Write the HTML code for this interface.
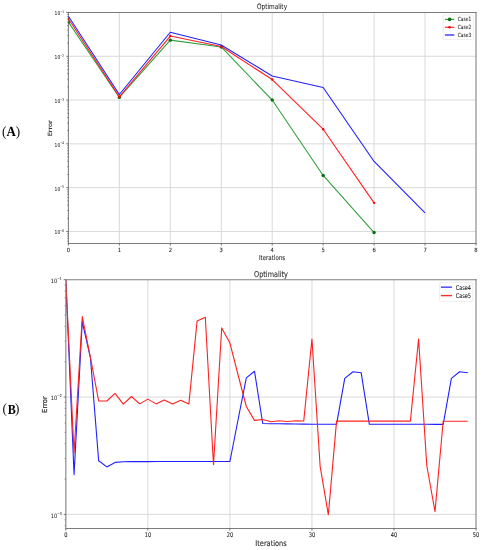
<!DOCTYPE html><html><head><meta charset="utf-8"><title>Optimality</title><style>html,body{margin:0;padding:0;background:#fff;width:483px;height:550px;overflow:hidden}svg{display:block;text-rendering:geometricPrecision}</style></head><body>
<svg width="483" height="550" viewBox="0 0 483 550">
<rect width="483" height="550" fill="#fff"/>
<defs><clipPath id="ca"><rect x="68.4" y="12.45" width="407.60" height="231.00"/></clipPath><clipPath id="cb"><rect x="65.85" y="279.7" width="410.15" height="248.70"/></clipPath></defs>
<g stroke="#d9d9d9" stroke-width="1"><line x1="119.35" y1="12.45" x2="119.35" y2="243.45"/><line x1="170.30" y1="12.45" x2="170.30" y2="243.45"/><line x1="221.25" y1="12.45" x2="221.25" y2="243.45"/><line x1="272.20" y1="12.45" x2="272.20" y2="243.45"/><line x1="323.15" y1="12.45" x2="323.15" y2="243.45"/><line x1="374.10" y1="12.45" x2="374.10" y2="243.45"/><line x1="425.05" y1="12.45" x2="425.05" y2="243.45"/><line x1="68.4" y1="56.25" x2="476.0" y2="56.25"/><line x1="68.4" y1="100.05" x2="476.0" y2="100.05"/><line x1="68.4" y1="143.85" x2="476.0" y2="143.85"/><line x1="68.4" y1="187.65" x2="476.0" y2="187.65"/><line x1="68.4" y1="231.45" x2="476.0" y2="231.45"/></g>
<g stroke="#7c7c7c" stroke-width="1.05" stroke-linecap="square"><line x1="68.4" y1="12.45" x2="476.0" y2="12.45"/><line x1="68.4" y1="243.45" x2="476.0" y2="243.45"/><line x1="68.4" y1="12.45" x2="68.4" y2="243.45"/><line x1="476.0" y1="12.45" x2="476.0" y2="243.45"/></g>
<g clip-path="url(#ca)">
<polyline fill="none" stroke="#34a040" stroke-width="1.1" stroke-linejoin="round" points="68.40,22.17 119.35,97.39 170.30,40.16 221.25,46.96 272.20,100.05 323.15,175.44 374.10,232.53"/>
<circle cx="68.40" cy="22.17" r="1.7" fill="#0a6e14"/>
<circle cx="119.35" cy="97.39" r="1.7" fill="#0a6e14"/>
<circle cx="170.30" cy="40.16" r="1.7" fill="#0a6e14"/>
<circle cx="221.25" cy="46.96" r="1.7" fill="#0a6e14"/>
<circle cx="272.20" cy="100.05" r="1.7" fill="#0a6e14"/>
<circle cx="323.15" cy="175.44" r="1.7" fill="#0a6e14"/>
<circle cx="374.10" cy="232.53" r="1.7" fill="#0a6e14"/>
<polyline fill="none" stroke="#ff2020" stroke-width="1.1" stroke-linejoin="round" points="68.40,18.70 119.35,96.90 170.30,36.06 221.25,46.50 272.20,79.54 323.15,129.20 374.10,202.84"/>
<circle cx="68.40" cy="18.70" r="1.2" fill="#ff0000"/>
<circle cx="119.35" cy="96.90" r="1.2" fill="#ff0000"/>
<circle cx="170.30" cy="36.06" r="1.2" fill="#ff0000"/>
<circle cx="221.25" cy="46.50" r="1.2" fill="#ff0000"/>
<circle cx="272.20" cy="79.54" r="1.2" fill="#ff0000"/>
<circle cx="323.15" cy="129.20" r="1.2" fill="#ff0000"/>
<circle cx="374.10" cy="202.84" r="1.2" fill="#ff0000"/>
<polyline fill="none" stroke="#2020ff" stroke-width="1.1" stroke-linejoin="round" points="68.40,16.22 119.35,94.48 170.30,32.26 221.25,44.96 272.20,75.95 323.15,87.44 374.10,161.47 425.05,212.84"/>
</g>
<g stroke="#5a5a5a" stroke-width="0.8"><line x1="68.40" y1="243.45" x2="68.40" y2="245.65"/><line x1="119.35" y1="243.45" x2="119.35" y2="245.65"/><line x1="170.30" y1="243.45" x2="170.30" y2="245.65"/><line x1="221.25" y1="243.45" x2="221.25" y2="245.65"/><line x1="272.20" y1="243.45" x2="272.20" y2="245.65"/><line x1="323.15" y1="243.45" x2="323.15" y2="245.65"/><line x1="374.10" y1="243.45" x2="374.10" y2="245.65"/><line x1="425.05" y1="243.45" x2="425.05" y2="245.65"/><line x1="476.00" y1="243.45" x2="476.00" y2="245.65"/><line x1="66.20" y1="12.45" x2="68.4" y2="12.45"/><line x1="66.20" y1="56.25" x2="68.4" y2="56.25"/><line x1="66.20" y1="100.05" x2="68.4" y2="100.05"/><line x1="66.20" y1="143.85" x2="68.4" y2="143.85"/><line x1="66.20" y1="187.65" x2="68.4" y2="187.65"/><line x1="66.20" y1="231.45" x2="68.4" y2="231.45"/></g>
<g stroke="#5a5a5a" stroke-width="0.6"><line x1="67.10" y1="43.06" x2="68.4" y2="43.06"/><line x1="67.10" y1="35.35" x2="68.4" y2="35.35"/><line x1="67.10" y1="29.88" x2="68.4" y2="29.88"/><line x1="67.10" y1="25.64" x2="68.4" y2="25.64"/><line x1="67.10" y1="22.17" x2="68.4" y2="22.17"/><line x1="67.10" y1="19.23" x2="68.4" y2="19.23"/><line x1="67.10" y1="16.69" x2="68.4" y2="16.69"/><line x1="67.10" y1="14.45" x2="68.4" y2="14.45"/><line x1="67.10" y1="86.86" x2="68.4" y2="86.86"/><line x1="67.10" y1="79.15" x2="68.4" y2="79.15"/><line x1="67.10" y1="73.68" x2="68.4" y2="73.68"/><line x1="67.10" y1="69.44" x2="68.4" y2="69.44"/><line x1="67.10" y1="65.97" x2="68.4" y2="65.97"/><line x1="67.10" y1="63.03" x2="68.4" y2="63.03"/><line x1="67.10" y1="60.49" x2="68.4" y2="60.49"/><line x1="67.10" y1="58.25" x2="68.4" y2="58.25"/><line x1="67.10" y1="130.66" x2="68.4" y2="130.66"/><line x1="67.10" y1="122.95" x2="68.4" y2="122.95"/><line x1="67.10" y1="117.48" x2="68.4" y2="117.48"/><line x1="67.10" y1="113.24" x2="68.4" y2="113.24"/><line x1="67.10" y1="109.77" x2="68.4" y2="109.77"/><line x1="67.10" y1="106.83" x2="68.4" y2="106.83"/><line x1="67.10" y1="104.29" x2="68.4" y2="104.29"/><line x1="67.10" y1="102.05" x2="68.4" y2="102.05"/><line x1="67.10" y1="174.46" x2="68.4" y2="174.46"/><line x1="67.10" y1="166.75" x2="68.4" y2="166.75"/><line x1="67.10" y1="161.28" x2="68.4" y2="161.28"/><line x1="67.10" y1="157.04" x2="68.4" y2="157.04"/><line x1="67.10" y1="153.57" x2="68.4" y2="153.57"/><line x1="67.10" y1="150.63" x2="68.4" y2="150.63"/><line x1="67.10" y1="148.09" x2="68.4" y2="148.09"/><line x1="67.10" y1="145.85" x2="68.4" y2="145.85"/><line x1="67.10" y1="218.26" x2="68.4" y2="218.26"/><line x1="67.10" y1="210.55" x2="68.4" y2="210.55"/><line x1="67.10" y1="205.08" x2="68.4" y2="205.08"/><line x1="67.10" y1="200.84" x2="68.4" y2="200.84"/><line x1="67.10" y1="197.37" x2="68.4" y2="197.37"/><line x1="67.10" y1="194.43" x2="68.4" y2="194.43"/><line x1="67.10" y1="191.89" x2="68.4" y2="191.89"/><line x1="67.10" y1="189.65" x2="68.4" y2="189.65"/><line x1="67.10" y1="241.17" x2="68.4" y2="241.17"/><line x1="67.10" y1="238.23" x2="68.4" y2="238.23"/><line x1="67.10" y1="235.69" x2="68.4" y2="235.69"/><line x1="67.10" y1="233.45" x2="68.4" y2="233.45"/></g>
<text transform="translate(68.40,251.50) scale(0.09000,0.10000)" text-anchor="middle" font-family="'DejaVu Sans', 'Liberation Sans', sans-serif" font-size="58.0" fill="#2a2a2a" stroke="#2a2a2a" stroke-width="1.00">0</text>
<text transform="translate(119.35,251.50) scale(0.09000,0.10000)" text-anchor="middle" font-family="'DejaVu Sans', 'Liberation Sans', sans-serif" font-size="58.0" fill="#2a2a2a" stroke="#2a2a2a" stroke-width="1.00">1</text>
<text transform="translate(170.30,251.50) scale(0.09000,0.10000)" text-anchor="middle" font-family="'DejaVu Sans', 'Liberation Sans', sans-serif" font-size="58.0" fill="#2a2a2a" stroke="#2a2a2a" stroke-width="1.00">2</text>
<text transform="translate(221.25,251.50) scale(0.09000,0.10000)" text-anchor="middle" font-family="'DejaVu Sans', 'Liberation Sans', sans-serif" font-size="58.0" fill="#2a2a2a" stroke="#2a2a2a" stroke-width="1.00">3</text>
<text transform="translate(272.20,251.50) scale(0.09000,0.10000)" text-anchor="middle" font-family="'DejaVu Sans', 'Liberation Sans', sans-serif" font-size="58.0" fill="#2a2a2a" stroke="#2a2a2a" stroke-width="1.00">4</text>
<text transform="translate(323.15,251.50) scale(0.09000,0.10000)" text-anchor="middle" font-family="'DejaVu Sans', 'Liberation Sans', sans-serif" font-size="58.0" fill="#2a2a2a" stroke="#2a2a2a" stroke-width="1.00">5</text>
<text transform="translate(374.10,251.50) scale(0.09000,0.10000)" text-anchor="middle" font-family="'DejaVu Sans', 'Liberation Sans', sans-serif" font-size="58.0" fill="#2a2a2a" stroke="#2a2a2a" stroke-width="1.00">6</text>
<text transform="translate(425.05,251.50) scale(0.09000,0.10000)" text-anchor="middle" font-family="'DejaVu Sans', 'Liberation Sans', sans-serif" font-size="58.0" fill="#2a2a2a" stroke="#2a2a2a" stroke-width="1.00">7</text>
<text transform="translate(476.00,251.50) scale(0.09000,0.10000)" text-anchor="middle" font-family="'DejaVu Sans', 'Liberation Sans', sans-serif" font-size="58.0" fill="#2a2a2a" stroke="#2a2a2a" stroke-width="1.00">8</text>
<text transform="translate(60.20,15.35) scale(0.08200,0.10000)" text-anchor="end" font-family="'DejaVu Sans', 'Liberation Sans', sans-serif" font-size="54.0" fill="#2a2a2a" stroke="#2a2a2a" stroke-width="0.60">10</text>
<text transform="translate(63.80,13.05) scale(0.07200,0.10000)" text-anchor="end" font-family="'DejaVu Sans', 'Liberation Sans', sans-serif" font-size="36.0" fill="#2a2a2a" stroke="#2a2a2a" stroke-width="0.48">&#8722;1</text>
<text transform="translate(60.20,59.15) scale(0.08200,0.10000)" text-anchor="end" font-family="'DejaVu Sans', 'Liberation Sans', sans-serif" font-size="54.0" fill="#2a2a2a" stroke="#2a2a2a" stroke-width="0.60">10</text>
<text transform="translate(63.80,56.85) scale(0.07200,0.10000)" text-anchor="end" font-family="'DejaVu Sans', 'Liberation Sans', sans-serif" font-size="36.0" fill="#2a2a2a" stroke="#2a2a2a" stroke-width="0.48">&#8722;2</text>
<text transform="translate(60.20,102.95) scale(0.08200,0.10000)" text-anchor="end" font-family="'DejaVu Sans', 'Liberation Sans', sans-serif" font-size="54.0" fill="#2a2a2a" stroke="#2a2a2a" stroke-width="0.60">10</text>
<text transform="translate(63.80,100.65) scale(0.07200,0.10000)" text-anchor="end" font-family="'DejaVu Sans', 'Liberation Sans', sans-serif" font-size="36.0" fill="#2a2a2a" stroke="#2a2a2a" stroke-width="0.48">&#8722;3</text>
<text transform="translate(60.20,146.75) scale(0.08200,0.10000)" text-anchor="end" font-family="'DejaVu Sans', 'Liberation Sans', sans-serif" font-size="54.0" fill="#2a2a2a" stroke="#2a2a2a" stroke-width="0.60">10</text>
<text transform="translate(63.80,144.45) scale(0.07200,0.10000)" text-anchor="end" font-family="'DejaVu Sans', 'Liberation Sans', sans-serif" font-size="36.0" fill="#2a2a2a" stroke="#2a2a2a" stroke-width="0.48">&#8722;4</text>
<text transform="translate(60.20,190.55) scale(0.08200,0.10000)" text-anchor="end" font-family="'DejaVu Sans', 'Liberation Sans', sans-serif" font-size="54.0" fill="#2a2a2a" stroke="#2a2a2a" stroke-width="0.60">10</text>
<text transform="translate(63.80,188.25) scale(0.07200,0.10000)" text-anchor="end" font-family="'DejaVu Sans', 'Liberation Sans', sans-serif" font-size="36.0" fill="#2a2a2a" stroke="#2a2a2a" stroke-width="0.48">&#8722;5</text>
<text transform="translate(60.20,234.35) scale(0.08200,0.10000)" text-anchor="end" font-family="'DejaVu Sans', 'Liberation Sans', sans-serif" font-size="54.0" fill="#2a2a2a" stroke="#2a2a2a" stroke-width="0.60">10</text>
<text transform="translate(63.80,232.05) scale(0.07200,0.10000)" text-anchor="end" font-family="'DejaVu Sans', 'Liberation Sans', sans-serif" font-size="36.0" fill="#2a2a2a" stroke="#2a2a2a" stroke-width="0.48">&#8722;6</text>
<text transform="translate(272.00,9.00) scale(0.07900,0.10000)" text-anchor="middle" font-family="'DejaVu Sans', 'Liberation Sans', sans-serif" font-size="73.0" fill="#2a2a2a" stroke="#2a2a2a" stroke-width="0.80">Optimality</text>
<text transform="translate(272.00,259.50) scale(0.08100,0.10000)" text-anchor="middle" font-family="'DejaVu Sans', 'Liberation Sans', sans-serif" font-size="68.0" fill="#2a2a2a" stroke="#2a2a2a" stroke-width="1.00">Iterations</text>
<text transform="translate(51.60,128.30) rotate(-90) scale(0.10000,0.08600)" text-anchor="middle" font-family="'DejaVu Sans', 'Liberation Sans', sans-serif" font-size="66.0" fill="#2a2a2a" stroke="#2a2a2a" stroke-width="1.60">Error</text>
<text transform="translate(2.00,136.30) scale(0.09500,0.10000)" font-family="'Liberation Serif', 'DejaVu Serif', serif" font-size="140.0" fill="#111">(</text>
<text transform="translate(11.20,136.30) scale(0.09300,0.10000)" text-anchor="middle" font-family="'Liberation Serif', 'DejaVu Serif', serif" font-size="140.0" fill="#000" font-weight="bold">A</text>
<text transform="translate(20.20,136.30) scale(0.09500,0.10000)" text-anchor="end" font-family="'Liberation Serif', 'DejaVu Serif', serif" font-size="140.0" fill="#111">)</text>
<rect x="443.2" y="15" width="30.2" height="24.6" rx="1" fill="#fff" fill-opacity="0.8" stroke="#e0e0e0" stroke-width="0.6"/>
<line x1="444.9" y1="19.4" x2="454.3" y2="19.4" stroke="#34a040" stroke-width="1.2"/><circle cx="449.6" cy="19.4" r="1.8" fill="#0a6e14"/>
<line x1="444.9" y1="27.3" x2="454.3" y2="27.3" stroke="#ff3030" stroke-width="1.2"/><circle cx="449.6" cy="27.3" r="1.3" fill="#ff0000"/>
<line x1="444.9" y1="35.0" x2="454.3" y2="35.0" stroke="#5050ff" stroke-width="1.6"/>
<text transform="translate(457.80,21.30) scale(0.07600,0.10000)" font-family="'DejaVu Sans', 'Liberation Sans', sans-serif" font-size="57.0" fill="#1a1a1a" stroke="#1a1a1a" stroke-width="0.60">Case1</text>
<text transform="translate(457.80,29.20) scale(0.07600,0.10000)" font-family="'DejaVu Sans', 'Liberation Sans', sans-serif" font-size="57.0" fill="#1a1a1a" stroke="#1a1a1a" stroke-width="0.60">Case2</text>
<text transform="translate(457.80,36.70) scale(0.07600,0.10000)" font-family="'DejaVu Sans', 'Liberation Sans', sans-serif" font-size="57.0" fill="#1a1a1a" stroke="#1a1a1a" stroke-width="0.60">Case3</text>
<g stroke="#d9d9d9" stroke-width="1"><line x1="147.88" y1="279.7" x2="147.88" y2="528.4"/><line x1="229.91" y1="279.7" x2="229.91" y2="528.4"/><line x1="311.94" y1="279.7" x2="311.94" y2="528.4"/><line x1="393.97" y1="279.7" x2="393.97" y2="528.4"/><line x1="65.85" y1="397.05" x2="476.0" y2="397.05"/><line x1="65.85" y1="514.40" x2="476.0" y2="514.40"/></g>
<g clip-path="url(#cb)">
<polyline fill="none" stroke="#2020ff" stroke-width="1.1" stroke-linejoin="round" points="65.85,280.20 74.05,474.60 82.26,321.80 90.46,358.00 98.66,460.70 106.86,466.90 115.07,462.40 123.27,461.70 131.47,461.60 139.68,461.60 147.88,461.60 156.08,461.50 164.29,461.50 172.49,461.50 180.69,461.50 188.89,461.50 197.10,461.50 205.30,461.50 213.50,461.50 221.71,461.50 229.91,461.50 238.11,419.50 246.32,377.90 254.52,371.30 262.72,423.50 270.92,423.70 279.13,423.80 287.33,423.90 295.53,424.00 303.74,424.10 311.94,424.20 320.14,424.20 328.35,424.30 336.55,424.30 344.75,378.40 352.96,371.80 361.16,372.70 369.36,424.30 377.56,424.30 385.77,424.30 393.97,424.30 402.17,424.30 410.38,424.30 418.58,424.30 426.78,424.30 434.99,424.40 443.19,424.40 451.39,378.40 459.59,371.80 467.80,372.70"/>
<polyline fill="none" stroke="#ff2020" stroke-width="1.1" stroke-linejoin="round" points="65.85,280.20 74.05,453.00 82.26,316.50 90.46,357.50 98.66,401.00 106.86,401.00 115.07,393.30 123.27,404.20 131.47,396.50 139.68,403.90 147.88,399.10 156.08,403.90 164.29,399.90 172.49,403.90 180.69,400.20 188.89,403.90 197.10,320.90 205.30,317.30 213.50,464.80 221.71,327.90 229.91,343.10 238.11,375.00 246.32,406.50 254.52,420.40 262.72,419.50 270.92,421.80 279.13,420.70 287.33,421.50 295.53,420.70 303.74,421.00 311.94,339.00 320.14,466.30 328.35,514.80 336.55,421.10 344.75,421.10 352.96,421.10 361.16,421.10 369.36,421.10 377.56,421.10 385.77,421.10 393.97,421.10 402.17,421.10 410.38,421.10 418.58,339.00 426.78,465.50 434.99,511.60 443.19,421.30 451.39,421.30 459.59,421.30 467.80,421.30"/>
</g>
<g stroke="#7c7c7c" stroke-width="1.05" stroke-linecap="square"><line x1="65.85" y1="279.7" x2="476.0" y2="279.7"/><line x1="65.85" y1="528.4" x2="476.0" y2="528.4"/><line x1="65.85" y1="279.7" x2="65.85" y2="528.4"/><line x1="476.0" y1="279.7" x2="476.0" y2="528.4"/></g>
<g stroke="#5a5a5a" stroke-width="0.8"><line x1="65.85" y1="528.4" x2="65.85" y2="530.60"/><line x1="147.88" y1="528.4" x2="147.88" y2="530.60"/><line x1="229.91" y1="528.4" x2="229.91" y2="530.60"/><line x1="311.94" y1="528.4" x2="311.94" y2="530.60"/><line x1="393.97" y1="528.4" x2="393.97" y2="530.60"/><line x1="476.00" y1="528.4" x2="476.00" y2="530.60"/><line x1="63.65" y1="279.70" x2="65.85" y2="279.70"/><line x1="63.65" y1="397.05" x2="65.85" y2="397.05"/><line x1="63.65" y1="514.40" x2="65.85" y2="514.40"/></g>
<g stroke="#5a5a5a" stroke-width="0.6"><line x1="64.55" y1="361.72" x2="65.85" y2="361.72"/><line x1="64.55" y1="341.06" x2="65.85" y2="341.06"/><line x1="64.55" y1="326.40" x2="65.85" y2="326.40"/><line x1="64.55" y1="315.03" x2="65.85" y2="315.03"/><line x1="64.55" y1="305.73" x2="65.85" y2="305.73"/><line x1="64.55" y1="297.88" x2="65.85" y2="297.88"/><line x1="64.55" y1="291.07" x2="65.85" y2="291.07"/><line x1="64.55" y1="285.07" x2="65.85" y2="285.07"/><line x1="64.55" y1="479.07" x2="65.85" y2="479.07"/><line x1="64.55" y1="458.41" x2="65.85" y2="458.41"/><line x1="64.55" y1="443.75" x2="65.85" y2="443.75"/><line x1="64.55" y1="432.38" x2="65.85" y2="432.38"/><line x1="64.55" y1="423.08" x2="65.85" y2="423.08"/><line x1="64.55" y1="415.23" x2="65.85" y2="415.23"/><line x1="64.55" y1="408.42" x2="65.85" y2="408.42"/><line x1="64.55" y1="402.42" x2="65.85" y2="402.42"/><line x1="64.55" y1="525.77" x2="65.85" y2="525.77"/><line x1="64.55" y1="519.77" x2="65.85" y2="519.77"/></g>
<text transform="translate(65.85,537.00) scale(0.07800,0.10000)" text-anchor="middle" font-family="'DejaVu Sans', 'Liberation Sans', sans-serif" font-size="65.0" fill="#2a2a2a" stroke="#2a2a2a" stroke-width="1.00">0</text>
<text transform="translate(147.88,537.00) scale(0.07800,0.10000)" text-anchor="middle" font-family="'DejaVu Sans', 'Liberation Sans', sans-serif" font-size="65.0" fill="#2a2a2a" stroke="#2a2a2a" stroke-width="1.00">10</text>
<text transform="translate(229.91,537.00) scale(0.07800,0.10000)" text-anchor="middle" font-family="'DejaVu Sans', 'Liberation Sans', sans-serif" font-size="65.0" fill="#2a2a2a" stroke="#2a2a2a" stroke-width="1.00">20</text>
<text transform="translate(311.94,537.00) scale(0.07800,0.10000)" text-anchor="middle" font-family="'DejaVu Sans', 'Liberation Sans', sans-serif" font-size="65.0" fill="#2a2a2a" stroke="#2a2a2a" stroke-width="1.00">30</text>
<text transform="translate(393.97,537.00) scale(0.07800,0.10000)" text-anchor="middle" font-family="'DejaVu Sans', 'Liberation Sans', sans-serif" font-size="65.0" fill="#2a2a2a" stroke="#2a2a2a" stroke-width="1.00">40</text>
<text transform="translate(476.00,537.00) scale(0.07800,0.10000)" text-anchor="middle" font-family="'DejaVu Sans', 'Liberation Sans', sans-serif" font-size="65.0" fill="#2a2a2a" stroke="#2a2a2a" stroke-width="1.00">50</text>
<text transform="translate(57.23,283.00) scale(0.08600,0.10000)" text-anchor="end" font-family="'DejaVu Sans', 'Liberation Sans', sans-serif" font-size="59.0" fill="#2a2a2a" stroke="#2a2a2a" stroke-width="0.60">10</text>
<text transform="translate(61.90,279.80) scale(0.08000,0.10000)" text-anchor="end" font-family="'DejaVu Sans', 'Liberation Sans', sans-serif" font-size="40.0" fill="#2a2a2a" stroke="#2a2a2a" stroke-width="0.48">&#8722;1</text>
<text transform="translate(57.23,400.35) scale(0.08600,0.10000)" text-anchor="end" font-family="'DejaVu Sans', 'Liberation Sans', sans-serif" font-size="59.0" fill="#2a2a2a" stroke="#2a2a2a" stroke-width="0.60">10</text>
<text transform="translate(61.90,397.15) scale(0.08000,0.10000)" text-anchor="end" font-family="'DejaVu Sans', 'Liberation Sans', sans-serif" font-size="40.0" fill="#2a2a2a" stroke="#2a2a2a" stroke-width="0.48">&#8722;2</text>
<text transform="translate(57.23,517.70) scale(0.08600,0.10000)" text-anchor="end" font-family="'DejaVu Sans', 'Liberation Sans', sans-serif" font-size="59.0" fill="#2a2a2a" stroke="#2a2a2a" stroke-width="0.60">10</text>
<text transform="translate(61.90,514.50) scale(0.08000,0.10000)" text-anchor="end" font-family="'DejaVu Sans', 'Liberation Sans', sans-serif" font-size="40.0" fill="#2a2a2a" stroke="#2a2a2a" stroke-width="0.48">&#8722;3</text>
<text transform="translate(271.00,276.70) scale(0.08000,0.10000)" text-anchor="middle" font-family="'DejaVu Sans', 'Liberation Sans', sans-serif" font-size="81.0" fill="#2a2a2a" stroke="#2a2a2a" stroke-width="0.80">Optimality</text>
<text transform="translate(271.00,545.70) scale(0.08350,0.10000)" text-anchor="middle" font-family="'DejaVu Sans', 'Liberation Sans', sans-serif" font-size="79.0" fill="#2a2a2a" stroke="#2a2a2a" stroke-width="1.20">Iterations</text>
<text transform="translate(47.20,404.50) rotate(-90) scale(0.10000,0.10000)" text-anchor="middle" font-family="'DejaVu Sans', 'Liberation Sans', sans-serif" font-size="69.0" fill="#2a2a2a" stroke="#2a2a2a" stroke-width="1.80">Error</text>
<text transform="translate(2.40,413.30) scale(0.09500,0.10000)" font-family="'Liberation Serif', 'DejaVu Serif', serif" font-size="140.0" fill="#111">(</text>
<text transform="translate(11.70,413.60) scale(0.08600,0.10000)" text-anchor="middle" font-family="'Liberation Serif', 'DejaVu Serif', serif" font-size="140.0" fill="#000" font-weight="bold">B</text>
<text transform="translate(19.40,413.30) scale(0.09500,0.10000)" text-anchor="end" font-family="'Liberation Serif', 'DejaVu Serif', serif" font-size="140.0" fill="#111">)</text>
<rect x="439.6" y="282.4" width="33.2" height="18.9" rx="1" fill="#fff" fill-opacity="0.8" stroke="#e0e0e0" stroke-width="0.6"/>
<line x1="440.9" y1="287.2" x2="452" y2="287.2" stroke="#4a4aff" stroke-width="1.5"/>
<line x1="440.9" y1="295.6" x2="452" y2="295.6" stroke="#ff2a2a" stroke-width="1.4"/>
<text transform="translate(455.70,289.60) scale(0.07600,0.10000)" font-family="'DejaVu Sans', 'Liberation Sans', sans-serif" font-size="65.0" fill="#1a1a1a" stroke="#1a1a1a" stroke-width="0.60">Case4</text>
<text transform="translate(455.70,297.60) scale(0.07600,0.10000)" font-family="'DejaVu Sans', 'Liberation Sans', sans-serif" font-size="65.0" fill="#1a1a1a" stroke="#1a1a1a" stroke-width="0.60">Case5</text>
</svg></body></html>
